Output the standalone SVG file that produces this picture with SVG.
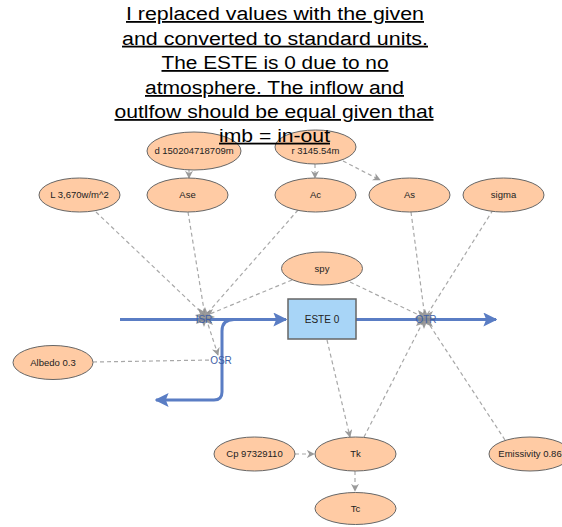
<svg xmlns="http://www.w3.org/2000/svg" width="562" height="527" viewBox="0 0 562 527">
<defs>
<style>
.node ellipse{fill:#FFCBA4;stroke:#666;stroke-width:1}
.node text{font-family:"Liberation Sans","DejaVu Sans",sans-serif;font-size:9.5px;fill:#222;text-anchor:middle}
.dash{stroke:#A8A8A8;stroke-width:1.2;stroke-dasharray:4 3;fill:none}
.flow{stroke:#5A7DC4;stroke-width:3;fill:none}
.vlabel{font-family:"Liberation Sans","DejaVu Sans",sans-serif;font-size:10px;fill:#3D5FA6;text-anchor:middle}
.title{font-family:"Liberation Sans","DejaVu Sans",sans-serif;font-size:18px;fill:#000;text-anchor:middle;text-decoration:underline}
.valve{fill:#8A8A8A;opacity:0.85}
</style>
<marker id="ga" viewBox="0 0 10 10" refX="9" refY="5" markerWidth="8" markerHeight="8" orient="auto" markerUnits="userSpaceOnUse">
<path d="M0,0 L10,5 L0,10 L3,5 z" fill="#9A9A9A"/>
</marker>
<marker id="ba" viewBox="0 0 10 10" refX="9" refY="5" markerWidth="14" markerHeight="14" orient="auto" markerUnits="userSpaceOnUse">
<path d="M0,0 L10,5 L0,10 L2,5 z" fill="#5A7DC4"/>
</marker>
</defs>
<rect width="562" height="527" fill="#fff"/>

<g id="connectors">
<path class="flow" d="M120,319.5 L286,319.5" marker-end="url(#ba)"/>
<path class="flow" d="M356,319.5 L496,319.5" marker-end="url(#ba)"/>
<path class="flow" d="M234,319.5 Q222,319.5 222,331 L222,392 Q222,400 214,400 L156,400" marker-end="url(#ba)"/>
<line class="dash" x1="189" y1="169" x2="189" y2="178" marker-end="url(#ga)"/>
<line class="dash" x1="315" y1="164" x2="315" y2="178" marker-end="url(#ga)"/>
<line class="dash" x1="343" y1="161" x2="380" y2="180" marker-end="url(#ga)"/>
<line class="dash" x1="96" y1="212" x2="205" y2="316"/>
<line class="dash" x1="188" y1="212" x2="205" y2="316"/>
<line class="dash" x1="298" y1="210" x2="205" y2="316"/>
<line class="dash" x1="292" y1="280" x2="205" y2="316"/>
<line class="dash" x1="206" y1="318" x2="218" y2="355" marker-end="url(#ga)"/>
<line class="dash" x1="93" y1="362" x2="212" y2="360"/>
<line class="dash" x1="411" y1="212" x2="425" y2="318"/>
<line class="dash" x1="493" y1="210" x2="425" y2="318"/>
<line class="dash" x1="350" y1="282" x2="425" y2="318"/>
<line class="dash" x1="364" y1="437" x2="425" y2="318"/>
<line class="dash" x1="505" y1="440" x2="425" y2="318"/>
<line class="dash" x1="327" y1="340" x2="350" y2="437" marker-end="url(#ga)"/>
<line class="dash" x1="295" y1="454" x2="314" y2="454" marker-end="url(#ga)"/>
<line class="dash" x1="355" y1="471" x2="355" y2="491" marker-end="url(#ga)"/>
</g>

<g id="ISR">
<polygon class="valve" points="205,307 207,312 213,309 210,315 215,317 210,319 213,325 206,322 204,327 202,322 196,324 199,318 195,315 200,314 198,308 203,311"/>
<text class="vlabel" x="204" y="323">ISR</text>
</g>
<g id="OTR">
<polygon class="valve" points="425,309 427,314 433,311 430,317 435,319 430,321 433,327 426,324 424,329 422,324 416,326 419,320 415,317 420,316 418,310 423,313"/>
<text class="vlabel" x="426" y="323">OTR</text>
</g>
<g id="OSR">
<text class="vlabel" x="221" y="364">OSR</text>
</g>

<g id="ESTE">
<rect x="288" y="299" width="68" height="40" fill="#A8D5F7" stroke="#666" stroke-width="1.5"/>
<text x="322" y="323" font-family="'Liberation Sans','DejaVu Sans',sans-serif" font-size="10px" fill="#222" text-anchor="middle">ESTE 0</text>
</g>

<g id="d" class="node"><ellipse cx="194" cy="151" rx="47" ry="19"/><text x="194" y="154">d 150204718709m</text></g>
<g id="r" class="node"><ellipse cx="315.5" cy="147" rx="40.5" ry="17"/><text x="315.5" y="154">r 3145.54m</text></g>
<g id="L" class="node"><ellipse cx="79.5" cy="195" rx="40.5" ry="17"/><text x="79.5" y="198">L 3,670w/m^2</text></g>
<g id="Ase" class="node"><ellipse cx="187.5" cy="195" rx="40.5" ry="17"/><text x="187.5" y="198">Ase</text></g>
<g id="Ac" class="node"><ellipse cx="315.5" cy="195" rx="40.5" ry="17"/><text x="315.5" y="198">Ac</text></g>
<g id="As" class="node"><ellipse cx="409.5" cy="195" rx="40.5" ry="17"/><text x="409.5" y="198">As</text></g>
<g id="sigma" class="node"><ellipse cx="503.5" cy="195" rx="40.5" ry="17"/><text x="503.5" y="198">sigma</text></g>
<g id="spy" class="node"><ellipse cx="322" cy="268.5" rx="40.5" ry="16.5"/><text x="322" y="272">spy</text></g>
<g id="Albedo" class="node"><ellipse cx="53" cy="362.5" rx="40" ry="17"/><text x="53" y="366">Albedo 0.3</text></g>
<g id="Cp" class="node"><ellipse cx="254.5" cy="454" rx="40.5" ry="17"/><text x="254.5" y="457">Cp 97329110</text></g>
<g id="Tk" class="node"><ellipse cx="355.5" cy="454" rx="40.5" ry="17"/><text x="355.5" y="457">Tk</text></g>
<g id="Tc" class="node"><ellipse cx="355.5" cy="508.5" rx="40.5" ry="16"/><text x="355.5" y="512">Tc</text></g>
<g id="Emissivity" class="node"><ellipse cx="530" cy="454" rx="41" ry="17"/><text x="530" y="457">Emissivity 0.86</text></g>

<g id="title">
<text class="title" x="275" y="20" textLength="298" lengthAdjust="spacingAndGlyphs">I replaced values with the given</text>
<text class="title" x="275" y="44.7" textLength="306" lengthAdjust="spacingAndGlyphs">and converted to standard units.</text>
<text class="title" x="275" y="69" textLength="227" lengthAdjust="spacingAndGlyphs">The ESTE is 0 due to no</text>
<text class="title" x="274.5" y="94" textLength="259" lengthAdjust="spacingAndGlyphs">atmosphere. The inflow and</text>
<text class="title" x="274" y="118" textLength="319" lengthAdjust="spacingAndGlyphs">outlfow should be equal given that</text>
<text class="title" x="274.5" y="141.7" textLength="111" lengthAdjust="spacingAndGlyphs">imb = in-out</text>
</g>
</svg>
